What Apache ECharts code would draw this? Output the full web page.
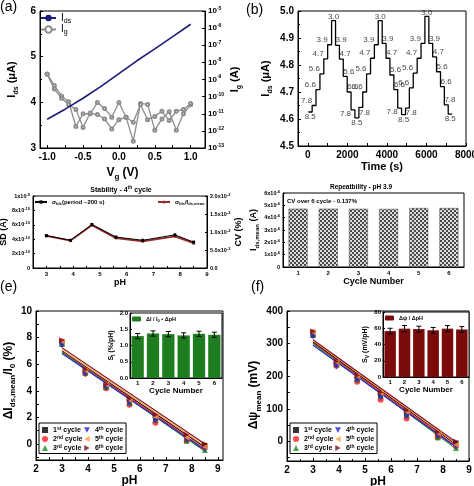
<!DOCTYPE html>
<html><head><meta charset="utf-8">
<script src="https://cdn.jsdelivr.net/npm/echarts@6/dist/echarts.min.js"></script>
<style>html,body{margin:0;padding:0;background:#fff}#c{width:474px;height:486px}</style>
</head><body><div id="c"></div>
<script>
// ---------------- DATA ----------------
// (a) transfer curve
const idsVg = [-1.0, -0.75, -0.5, -0.25, 0.0, 0.25, 0.5, 0.75, 1.0];
const idsUA = [3.63, 3.85, 4.09, 4.35, 4.63, 4.91, 5.17, 5.44, 5.71];
const igVg = [-1.0,-0.9,-0.8,-0.7,-0.6,-0.5,-0.4,-0.3,-0.2,-0.1,0.0,0.1,0.2,0.3,0.4,0.5,0.6,0.7,0.8,0.9,1.0];
const igFwd = [2.1e-9,4.5e-10,1.1e-10,5e-11,1.8e-12,1e-11,1e-11,4.5e-11,2e-11,6.3e-12,4.5e-11,6.3e-12,2.5e-13,4e-11,3.5e-11,1.1e-12,5e-12,1.3e-11,1.1e-12,1e-11,3.3e-11];
const igRev = [2.0e-9,2.8e-10,8e-11,3.5e-11,1.8e-11,1.6e-12,1.1e-11,9e-12,5e-12,1.3e-12,4.5e-12,6.3e-12,3.2e-12,3.5e-11,4.5e-12,7e-12,1.4e-11,4e-12,1.4e-11,1.8e-11,4e-11];
// (b) time trace
const phSteps = [8.5,7.8,6.6,5.6,4.7,3.9,3.0,3.9,4.7,5.6,6.6,7.8,8.5,7.8,6.6,5.6,4.7,3.9,3.0,3.9,4.7,5.6,6.6,7.8,8.5,7.8,6.6,5.6,4.7,3.9,3.0,3.9,4.7,5.6,6.6,7.8,8.5];
const stepTimes = [20,215,410,610,805,1000,1200,1400,1595,1790,1990,2185,2380,2580,2775,2970,3170,3365,3560,3760,3955,4150,4350,4545,4740,4940,5135,5330,5530,5725,5920,6120,6315,6510,6710,6905,7100];
const stepEndTime = 7300;
const idsSteps = [4.626,4.650,4.709,4.767,4.823,4.875,4.964,4.873,4.822,4.758,4.700,4.634,4.604,4.643,4.700,4.767,4.825,4.875,4.964,4.880,4.825,4.763,4.709,4.640,4.616,4.640,4.715,4.770,4.825,4.880,4.980,4.880,4.830,4.775,4.720,4.652,4.618];
// (c) stability
const stabPH = [3.0, 3.9, 4.7, 5.6, 6.6, 7.8, 8.5];
const stabSD = [4.5e-10, 3.85e-10, 6.05e-10, 4.3e-10, 3.85e-10, 4.6e-10, 3.6e-10];
const stabCV = [8.9e-3, 7.6e-3, 11.9e-3, 8.3e-3, 7.4e-3, 8.8e-3, 6.9e-3];
// (d) repeatability
const cycleCats = ['1','2','3','4','5','6'];
const idsMean = [4.73e-6, 4.73e-6, 4.72e-6, 4.71e-6, 4.78e-6, 4.78e-6];
// (e),(f) sensitivity
const phVals = [3.0, 3.9, 4.7, 5.6, 6.6, 7.8, 8.5];
const dIds = [
  [7.50, 5.35, 4.25, 3.10, 1.80, 0.30, -0.10],
  [7.70, 5.30, 4.20, 2.95, 1.60, 0.25, -0.30],
  [7.55, 5.40, 4.30, 3.10, 1.85, 0.25, -0.45],
  [7.45, 5.25, 4.25, 3.05, 1.75, 0.30, -0.35],
  [7.70, 5.50, 4.45, 3.30, 2.05, 0.50, -0.20],
  [7.80, 5.60, 4.50, 3.40, 2.20, 0.70, 0.00]
];
const fitPH = [3.0, 8.55];
const fitIdsStart = [7.0, 6.95, 6.9, 6.8, 7.15, 7.25];
const fitIdsEnd = [-0.3, -0.45, -0.6, -0.5, -0.2, -0.05];
const dPsi = [
  [325, 235, 190, 138, 80, 15, -5],
  [335, 232, 183, 128, 70, 12, -15],
  [330, 240, 192, 140, 82, 13, -20],
  [322, 230, 187, 135, 76, 16, -15],
  [335, 243, 200, 148, 90, 25, -10],
  [337, 245, 202, 150, 95, 28, 0]
];
const fitPsiStart = [305, 302, 300, 295, 309, 312];
const fitPsiEnd = [-12, -18, -25, -20, -9, -5];
const sI = [1.29, 1.37, 1.35, 1.31, 1.36, 1.33];
const sIerr = [0.08, 0.08, 0.08, 0.08, 0.08, 0.08];
const sV = [56.5, 59.5, 59, 57.5, 59.5, 58.5];
const sVerr = [3.5, 3.8, 3.5, 3.5, 3.8, 3.5];
const cycleOrd = ['st','nd','rd','th','th','th'];

// ---------------- STYLE ----------------
const FF = '"Liberation Sans", Arial, Helvetica, sans-serif';
const cycColors = ['#000000','#ff1a1a','#1f8f1f','#2424d8','#ff9a3c','#7a0d1e'];
const cycSymbols = ['rect','circle','triangle',
  'path://M0,0L10,0L5,9Z', 'path://M9,0L9,10L0,5Z', 'path://M0,0L0,10L9,5Z'];

function rich(base, w, lh) {
  w = w || 'bold';
  const sub = Math.max(4, Math.round(base * 0.68));
  return {
    m: {fontSize: base, fontWeight: w, fontFamily: FF, color: '#000', lineHeight: lh || Math.round(base * 1.45)},
    s: {fontSize: sub, fontWeight: w, fontFamily: FF, color: '#000', verticalAlign: 'bottom', lineHeight: sub},
    p: {fontSize: sub, fontWeight: w, fontFamily: FF, color: '#000', verticalAlign: 'top', lineHeight: sub}
  };
}
function merge(a, b) {
  const out = Object.assign({}, a);
  for (const k in b) {
    const v = b[k];
    if (v && typeof v === 'object' && !Array.isArray(v) && out[k] && typeof out[k] === 'object' && !Array.isArray(out[k])) out[k] = merge(out[k], v);
    else out[k] = v;
  }
  return out;
}
function ax(extra) {
  const base = {
    axisLine: {show: true, onZero: false, lineStyle: {color: '#000', width: 1}},
    axisTick: {show: true, inside: true, length: 3, lineStyle: {color: '#000', width: 1}},
    axisLabel: {color: '#000', fontFamily: FF, fontWeight: 'bold', fontSize: 10, margin: 4},
    splitLine: {show: false},
    nameLocation: 'middle',
    nameTextStyle: {color: '#000', fontFamily: FF, fontWeight: 'bold'}
  };
  return merge(base, extra);
}
function sci(v, fixed) {
  if (v === 0) return fixed ? '{m|0.0}' : '{m|0}';
  const e = Math.floor(Math.log10(Math.abs(v)) + 1e-9);
  const m = v / Math.pow(10, e);
  return '{m|' + (fixed ? m.toFixed(1) : Math.round(m)) + 'x10}{p|' + e + '}';
}
function range(a, b, s) { const r = []; for (let v = a; v <= b + 1e-9; v += s) r.push(+v.toFixed(4)); return r; }

// checker pattern for bars
const pat = document.createElement('canvas');
pat.width = 4; pat.height = 4;
const pg = pat.getContext('2d');
pg.fillStyle = '#dcdcdc'; pg.fillRect(0, 0, 4, 4);
pg.fillStyle = '#4a4a4a'; pg.fillRect(0, 0, 2, 2); pg.fillRect(2, 2, 2, 2);

// ---------------- GRIDS ----------------
const grids = [
  {left: 40, top: 11, width: 165, height: 137},
  {left: 298, top: 11, width: 168, height: 135},
  {left: 33, top: 196, width: 174, height: 72},
  {left: 283, top: 193, width: 181, height: 74},
  {left: 36, top: 311, width: 187, height: 149},
  {left: 130, top: 313, width: 92, height: 65, backgroundColor: '#fff'},
  {left: 287, top: 311, width: 182, height: 150},
  {left: 383, top: 312, width: 86, height: 65, backgroundColor: '#fff'}
].map(g => Object.assign({show: true, borderColor: '#000', borderWidth: 1, backgroundColor: 'transparent', containLabel: false, outerBoundsMode: 'none'}, g));

// ---------------- AXES ----------------
const xAxes = [
  ax({gridIndex: 0, type: 'value', min: -1.1, max: 1.2,
      axisLabel: {customValues: [-1, -0.5, 0, 0.5, 1], formatter: v => v.toFixed(1)},
      axisTick: {customValues: range(-1, 1, 0.25)},
      name: '{m|V}{s|g}{m| (V)}', nameGap: 16, nameTextStyle: {rich: rich(12)}}),
  ax({gridIndex: 1, type: 'value', min: -500, max: 8000,
      axisLabel: {customValues: [0, 2000, 4000, 6000, 8000], formatter: v => String(v)},
      axisTick: {customValues: range(0, 8000, 1000)},
      name: 'Time (s)', nameGap: 15, nameTextStyle: {fontSize: 11}}),
  ax({gridIndex: 2, type: 'value', min: 2.5, max: 9,
      axisLabel: {customValues: [3, 4, 5, 6, 7, 8, 9], fontSize: 6, margin: 3},
      axisTick: {customValues: range(2.5, 9, 0.5), length: 2},
      name: 'pH', nameGap: 9, nameTextStyle: {fontSize: 9}}),
  ax({gridIndex: 3, type: 'category', data: cycleCats,
      axisLabel: {fontSize: 6, margin: 3}, axisTick: {alignWithLabel: true, length: 2},
      name: 'Cycle Number', nameGap: 10, nameTextStyle: {fontSize: 9}}),
  ax({gridIndex: 4, type: 'value', min: 2, max: 9.2,
      axisLabel: {customValues: [2, 3, 4, 5, 6, 7, 8, 9]},
      axisTick: {customValues: range(2, 9, 0.5)},
      name: 'pH', nameGap: 13, nameTextStyle: {fontSize: 12}}),
  ax({gridIndex: 5, type: 'category', data: cycleCats,
      axisLabel: {fontSize: 6, margin: 2}, axisTick: {alignWithLabel: true, length: 2},
      name: 'Cycle Number', nameGap: 8, nameTextStyle: {fontSize: 8}}),
  ax({gridIndex: 6, type: 'value', min: 2, max: 9, interval: 1,
      minorTick: {show: true, splitNumber: 2, length: 2, lineStyle: {color: '#000'}},
      name: 'pH', nameGap: 13, nameTextStyle: {fontSize: 12}}),
  ax({gridIndex: 7, type: 'category', data: cycleCats,
      axisLabel: {fontSize: 6, margin: 2}, axisTick: {alignWithLabel: true, length: 2},
      name: 'Cycle Number', nameGap: 8, nameTextStyle: {fontSize: 8}})
];
const yAxes = [
  ax({gridIndex: 0, type: 'value', min: 3, max: 6, interval: 1,
      minorTick: {show: true, splitNumber: 2, length: 2, lineStyle: {color: '#000'}},
      name: '{m|I}{s|ds}{m| (μA)}', nameGap: 20, nameTextStyle: {rich: rich(11)}}),
  ax({gridIndex: 0, type: 'log', logBase: 10, min: 1e-13, max: 1e-5, position: 'right',
      axisLabel: {formatter: v => '{m|10}{p|' + Math.round(Math.log10(v)) + '}', rich: rich(8, 'bold', 10), margin: 3},
      name: '{m|I}{s|g}{m| (A)}', nameGap: 22, nameTextStyle: {rich: rich(11)}}),
  ax({gridIndex: 1, type: 'value', min: 4.5, max: 5.0, interval: 0.1,
      axisLabel: {formatter: v => v.toFixed(1)},
      minorTick: {show: true, splitNumber: 2, length: 2, lineStyle: {color: '#000'}},
      name: '{m|I}{s|ds}{m| (μA)}', nameGap: 24, nameTextStyle: {rich: rich(11)}}),
  ax({gridIndex: 2, type: 'value', min: 0, max: 1e-9, interval: 2e-10,
      axisLabel: {formatter: v => sci(v, false), rich: rich(5.5, 'bold', 7), margin: 3},
      axisTick: {length: 2},
      name: 'SD (A)', nameGap: 22, nameTextStyle: {fontSize: 9}}),
  ax({gridIndex: 2, type: 'value', min: 0, max: 0.02, interval: 0.005, position: 'right',
      axisLabel: {formatter: v => sci(v, true), rich: rich(5.5, 'bold', 7), margin: 3},
      axisTick: {length: 2},
      name: 'CV (%)', nameGap: 24, nameTextStyle: {fontSize: 9}}),
  ax({gridIndex: 3, type: 'value', min: 0, max: 6e-6, interval: 1e-6,
      axisLabel: {formatter: v => sci(v, false), rich: rich(5.5, 'bold', 7), margin: 3},
      axisTick: {length: 2},
      name: '{m|I}{s|ds,mean}{m| (A)}', nameGap: 22, nameTextStyle: {rich: rich(9)}}),
  ax({gridIndex: 4, type: 'value', min: -1.2, max: 10,
      axisLabel: {customValues: [0, 2, 4, 6, 8, 10]},
      axisTick: {customValues: range(-1, 10, 1)},
      name: '{m|ΔI}{s|ds,mean}{m|/I}{s|0}{m| (%)}', nameGap: 16, nameTextStyle: {rich: rich(12), padding: [0, 0, 0, 10]}}),
  ax({gridIndex: 5, type: 'value', min: 0, max: 2, interval: 0.5,
      axisLabel: {formatter: v => v.toFixed(1), fontSize: 6, margin: 2}, axisTick: {length: 2},
      name: '{m|S}{s|I}{m| (%/pH)}', nameGap: 12, nameTextStyle: {rich: rich(7)}}),
  ax({gridIndex: 6, type: 'value', min: -60, max: 400,
      axisLabel: {customValues: [0, 100, 200, 300, 400]},
      axisTick: {customValues: range(-50, 400, 50)},
      name: '{m|Δψ}{s|mean}{m| (mV)}', nameGap: 24, nameTextStyle: {rich: rich(12), padding: [0, 18, 0, 0]}}),
  ax({gridIndex: 7, type: 'value', min: 0, max: 80, interval: 20,
      axisLabel: {fontSize: 6, margin: 2}, axisTick: {length: 2},
      name: '{m|S}{s|V}{m| (mV/pH)}', nameGap: 10, nameTextStyle: {rich: rich(7)}})
];

// ---------------- SERIES ----------------
const series = [];
// (a)
series.push({name: 'Ids', type: 'line', xAxisIndex: 0, yAxisIndex: 0, symbol: 'none', z: 4,
  data: idsVg.map((x, i) => [x, idsUA[i]]), lineStyle: {color: '#1b1b7a', width: 1.6}, itemStyle: {color: '#1b1b7a'}});
series.push({name: 'Ig', type: 'line', xAxisIndex: 0, yAxisIndex: 1, symbol: 'emptyCircle', symbolSize: 3,
  data: igVg.map((x, i) => [x, igFwd[i]]), lineStyle: {color: '#8c8c8c', width: 1.3}, itemStyle: {color: '#8c8c8c'}});
series.push({name: 'Ig2', type: 'line', xAxisIndex: 0, yAxisIndex: 1, symbol: 'emptyCircle', symbolSize: 3,
  data: igVg.map((x, i) => [x, igRev[i]]), lineStyle: {color: '#8c8c8c', width: 1.3}, itemStyle: {color: '#8c8c8c'}});
// (b)
const stepData = stepTimes.map((t, i) => [t, idsSteps[i]]);
stepData.push([stepEndTime, idsSteps[idsSteps.length - 1]]);
series.push({name: 'steps', type: 'line', step: 'end', xAxisIndex: 1, yAxisIndex: 2, symbol: 'none',
  data: stepData, lineStyle: {color: '#000', width: 1.3}});
const last = phSteps.length - 1;
const stepLabels = phSteps.map((ph, i) => {
  const t0 = stepTimes[i], t1 = i < last ? stepTimes[i + 1] : stepEndTime;
  const prev = phSteps[i - 1], next = phSteps[i + 1];
  let x = t0, pos = 'left', off = [1, -5];
  if (ph === 3.0) { x = (t0 + t1) / 2; pos = 'top'; off = [0, 1]; }
  else if (ph === 8.5) { x = (t0 + t1) / 2; pos = 'bottom'; off = [0, 0]; }
  else if (ph === 7.8 && next === 8.5 && i + 1 < last) { pos = 'left'; off = [1, 4]; }
  else if (ph === 7.8 && prev === 8.5 && i - 1 > 0) { pos = 'right'; off = [-1, 5]; }
  else if (prev !== undefined && ph > prev) { pos = 'right'; off = [-1, -5]; }
  return {value: [x, idsSteps[i]], label: {position: pos, offset: off, formatter: ph.toFixed(1)}};
});
series.push({name: 'stepLabels', type: 'scatter', xAxisIndex: 1, yAxisIndex: 2, symbolSize: 0.1,
  itemStyle: {color: 'rgba(0,0,0,0)'}, silent: true, z: 5,
  label: {show: true, distance: 1, color: '#111', fontFamily: FF, fontSize: 8},
  data: stepLabels});
// (c)
series.push({name: 'sd', type: 'line', xAxisIndex: 2, yAxisIndex: 3, symbol: 'rect', symbolSize: 3, z: 4,
  data: stabPH.map((p, i) => [p, stabSD[i]]), lineStyle: {color: '#000', width: 1}, itemStyle: {color: '#000'}});
series.push({name: 'cv', type: 'line', xAxisIndex: 2, yAxisIndex: 4, symbol: 'circle', symbolSize: 3,
  data: stabPH.map((p, i) => [p, stabCV[i]]), lineStyle: {color: '#9b2a2a', width: 1.8}, itemStyle: {color: '#9b2a2a'}});
// (d)
series.push({name: 'idsMean', type: 'bar', xAxisIndex: 3, yAxisIndex: 5, barWidth: '63%', data: idsMean,
  itemStyle: {color: {image: pat, repeat: 'repeat'}, borderColor: '#555', borderWidth: 0.5}});
// (e),(f) scatter + fits
function errSeries(xi, yi, vals, errs, name) {
  return {type: 'custom', name, xAxisIndex: xi, yAxisIndex: yi, z: 6, silent: true,
    data: vals.map((v, i) => [i, v - errs[i], v + errs[i]]),
    renderItem(params, api) {
      const x = api.value(0);
      const lo = api.coord([x, api.value(1)]), hi = api.coord([x, api.value(2)]);
      const w = 2.5, st = {stroke: '#000', lineWidth: 1};
      return {type: 'group', children: [
        {type: 'line', shape: {x1: lo[0], y1: lo[1], x2: hi[0], y2: hi[1]}, style: st},
        {type: 'line', shape: {x1: lo[0] - w, y1: lo[1], x2: lo[0] + w, y2: lo[1]}, style: st},
        {type: 'line', shape: {x1: hi[0] - w, y1: hi[1], x2: hi[0] + w, y2: hi[1]}, style: st}
      ]};
    }};
}
for (let k = 0; k < 6; k++) {
  series.push({name: 'efit' + (k + 1), type: 'line', xAxisIndex: 4, yAxisIndex: 6, symbol: 'none', silent: true, z: 2,
    data: [[fitPH[0], fitIdsStart[k]], [fitPH[1], fitIdsEnd[k]]], lineStyle: {color: cycColors[k], width: 1.1}});
  series.push({name: 'ffit' + (k + 1), type: 'line', xAxisIndex: 6, yAxisIndex: 8, symbol: 'none', silent: true, z: 2,
    data: [[fitPH[0], fitPsiStart[k]], [fitPH[1], fitPsiEnd[k]]], lineStyle: {color: cycColors[k], width: 1.1}});
}
for (let k = 0; k < 6; k++) {
  series.push({name: 'e' + (k + 1), type: 'scatter', xAxisIndex: 4, yAxisIndex: 6, z: 3,
    symbol: cycSymbols[k], symbolSize: k === 0 ? 5 : 6,
    data: phVals.map((p, j) => [p, dIds[k][j]]), itemStyle: {color: cycColors[k]}});
  series.push({name: 'f' + (k + 1), type: 'scatter', xAxisIndex: 6, yAxisIndex: 8, z: 3,
    symbol: cycSymbols[k], symbolSize: k === 0 ? 5 : 6,
    data: phVals.map((p, j) => [p, dPsi[k][j]]), itemStyle: {color: cycColors[k]}});
}
series.push({name: 'sI', type: 'bar', xAxisIndex: 5, yAxisIndex: 7, barWidth: '80%', data: sI,
  itemStyle: {color: '#1e7d1e'}});
series.push(errSeries(5, 7, sI, sIerr, 'sIerr'));
series.push({name: 'sV', type: 'bar', xAxisIndex: 7, yAxisIndex: 9, barWidth: '80%', data: sV,
  itemStyle: {color: '#7b0a0a'}});
series.push(errSeries(7, 9, sV, sVerr, 'sVerr'));

// ---------------- LEGENDS ----------------
function cycLegend(left, prefix) {
  return {data: [0, 1, 2, 3, 4, 5].map(k => ({name: prefix + (k + 1), icon: cycSymbols[k]})),
    left, top: 423, orient: 'vertical', height: 26,
    itemGap: 1.5, itemWidth: 6, itemHeight: 6, padding: [3, 3, 2, 3], borderColor: '#000', borderWidth: 1,
    selectedMode: false, backgroundColor: '#fff',
    formatter: n => { const k = +n.slice(-1) - 1; return '{m|' + (k + 1) + '}{p|' + cycleOrd[k] + '}{m| cycle}'; },
    textStyle: {width: 31, rich: rich(7, 'bold', 8)}};
}
const legends = [
  {data: ['Ids', 'Ig'], left: 40, top: 13, orient: 'vertical', itemGap: 0, itemWidth: 15, itemHeight: 8, padding: 0,
    selectedMode: false, formatter: n => n === 'Ids' ? '{m|I}{s|ds}' : '{m|I}{s|g}', textStyle: {rich: rich(10, 'normal', 13)}},
  {data: ['sd'], left: 34, top: 199, itemWidth: 12, itemHeight: 4, padding: 0, selectedMode: false,
    formatter: () => '{m|σ}{s|Ids}{m|(period ~200 s)}', textStyle: {rich: rich(6, 'bold', 8)}},
  {data: ['cv'], left: 157, top: 199, itemWidth: 12, itemHeight: 4, padding: 0, selectedMode: false,
    formatter: () => '{m|σ}{s|Ids}{m|/I}{s|ds,mean}', textStyle: {rich: rich(6, 'bold', 8)}},
  cycLegend(39, 'e'),
  cycLegend(290, 'f'),
  {data: ['sI'], left: 132, top: 316, itemWidth: 9, itemHeight: 5, itemGap: 2, padding: 0, selectedMode: false,
    formatter: () => '{m|ΔI / I}{s|0}{m| • ΔpH}', textStyle: {rich: rich(5.5, 'bold', 7)}},
  {data: ['sV'], left: 385, top: 315, itemWidth: 9, itemHeight: 5, itemGap: 2, padding: 0, selectedMode: false,
    formatter: () => '{m|Δψ / ΔpH}', textStyle: {rich: rich(5.5, 'bold', 7)}}
];

// ---------------- TITLES ----------------
const tbase = {fontFamily: FF, color: '#000', fontWeight: 'normal', fontSize: 14};
const titles = [
  {text: '(a)', left: 0, top: 0, padding: 0, textStyle: tbase},
  {text: '(b)', left: 246, top: 3, padding: 0, textStyle: tbase},
  {text: '(e)', left: 0, top: 280, padding: 0, textStyle: tbase},
  {text: '(f)', left: 251, top: 280, padding: 0, textStyle: tbase},
  {text: '{m|Stability - 4}{p|th}{m| cycle}', left: 121, textAlign: 'center', top: 185, padding: 0,
    textStyle: {rich: rich(7, 'bold', 10)}},
  {text: 'Repeatbility - pH 3.9', left: 361, textAlign: 'center', top: 184, padding: 0,
    textStyle: {fontFamily: FF, fontWeight: 'bold', fontSize: 6.5, color: '#000'}},
  {text: 'CV over 6 cycle - 0.137%', left: 287, top: 198, padding: 0,
    textStyle: {fontFamily: FF, fontWeight: 'bold', fontSize: 6, color: '#000'}}
];

const chart = echarts.init(document.getElementById('c'), null, {renderer: 'canvas', width: 474, height: 486});
chart.setOption({
  animation: false,
  backgroundColor: '#fff',
  textStyle: {fontFamily: FF},
  title: titles,
  legend: legends,
  grid: grids,
  xAxis: xAxes,
  yAxis: yAxes,
  series: series
});
</script>
</body></html>
